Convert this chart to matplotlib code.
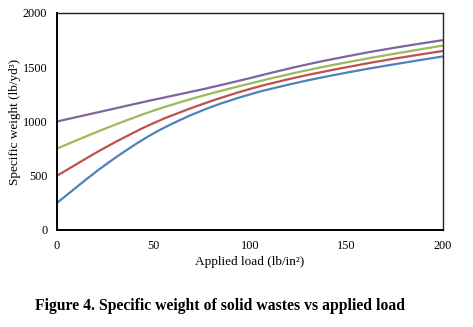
import matplotlib
matplotlib.use("Agg")
import matplotlib.pyplot as plt
from matplotlib.path import Path
from matplotlib.patches import PathPatch

# Data
load = [0, 25, 50, 75, 100, 125, 150, 175, 200]
series_blue = [250, 600, 890, 1100, 1250, 1360, 1450, 1528, 1600]
series_red = [500, 760, 985, 1158, 1300, 1410, 1500, 1580, 1650]
series_green = [750, 935, 1100, 1235, 1350, 1455, 1545, 1625, 1700]
series_purple = [1000, 1100, 1200, 1295, 1400, 1508, 1600, 1680, 1750]
x_ticks = [0, 50, 100, 150, 200]
y_ticks = [0, 500, 1000, 1500, 2000]

colors = ["#4F81BD", "#C0504D", "#9BBB59", "#8064A2"]

plt.rcParams['font.family'] = ['Liberation Serif', 'DejaVu Serif']

W, H = 473, 327
fig = plt.figure(figsize=(W/100, H/100), dpi=100)
ax = fig.add_axes([57/W, 1-230/H, (443-57)/W, (230-13)/H])


def smooth_path(xs, ys):
    # Excel-style smoothed line drawn as cubic Bezier segments through the data points
    pts = list(zip(xs, ys))
    n = len(pts)
    verts = [pts[0]]
    codes = [Path.MOVETO]
    for i in range(n - 1):
        p0 = pts[i - 1] if i > 0 else pts[i]
        p1 = pts[i]
        p2 = pts[i + 1]
        p3 = pts[i + 2] if i + 2 < n else pts[i + 1]
        c1 = (p1[0] + (p2[0] - p0[0]) / 6, p1[1] + (p2[1] - p0[1]) / 6)
        c2 = (p2[0] - (p3[0] - p1[0]) / 6, p2[1] - (p3[1] - p1[1]) / 6)
        verts += [c1, c2, p2]
        codes += [Path.CURVE4] * 3
    return Path(verts, codes)


for ys, c in zip([series_blue, series_red, series_green, series_purple], colors):
    patch = PathPatch(smooth_path(load, ys), facecolor='none', edgecolor=c,
                      lw=1.6, transform=ax.transData, capstyle='butt')
    ax.add_patch(patch)

ax.set_xlim(0, 200)
ax.set_ylim(0, 2000)
ax.set_xticks(x_ticks)
ax.set_yticks(y_ticks)
ax.tick_params(length=0, labelsize=8.8, colors='black')
ax.tick_params(axis='y', pad=7)
ax.tick_params(axis='x', pad=7.5)
for s in ['left', 'bottom']:
    ax.spines[s].set_linewidth(1.4)
    ax.spines[s].set_color('black')
for s in ['top', 'right']:
    ax.spines[s].set_linewidth(1.0)
    ax.spines[s].set_color('#222222')

ax.set_xlabel("Applied load (lb/in²)", fontsize=9.5, va='center')
ax.xaxis.set_label_coords((250-57)/386, (230-262.5)/217)
ax.set_ylabel("Specific weight (lb/yd³)", fontsize=9.5, va='center')
ax.yaxis.set_label_coords((15-57)/386, 0.5)

fig.text(220/W, 1-306/H, "Figure 4. Specific weight of solid wastes vs applied load",
         ha='center', va='center', fontsize=11.3, fontweight='bold')

fig.savefig("out.png", dpi=100)
